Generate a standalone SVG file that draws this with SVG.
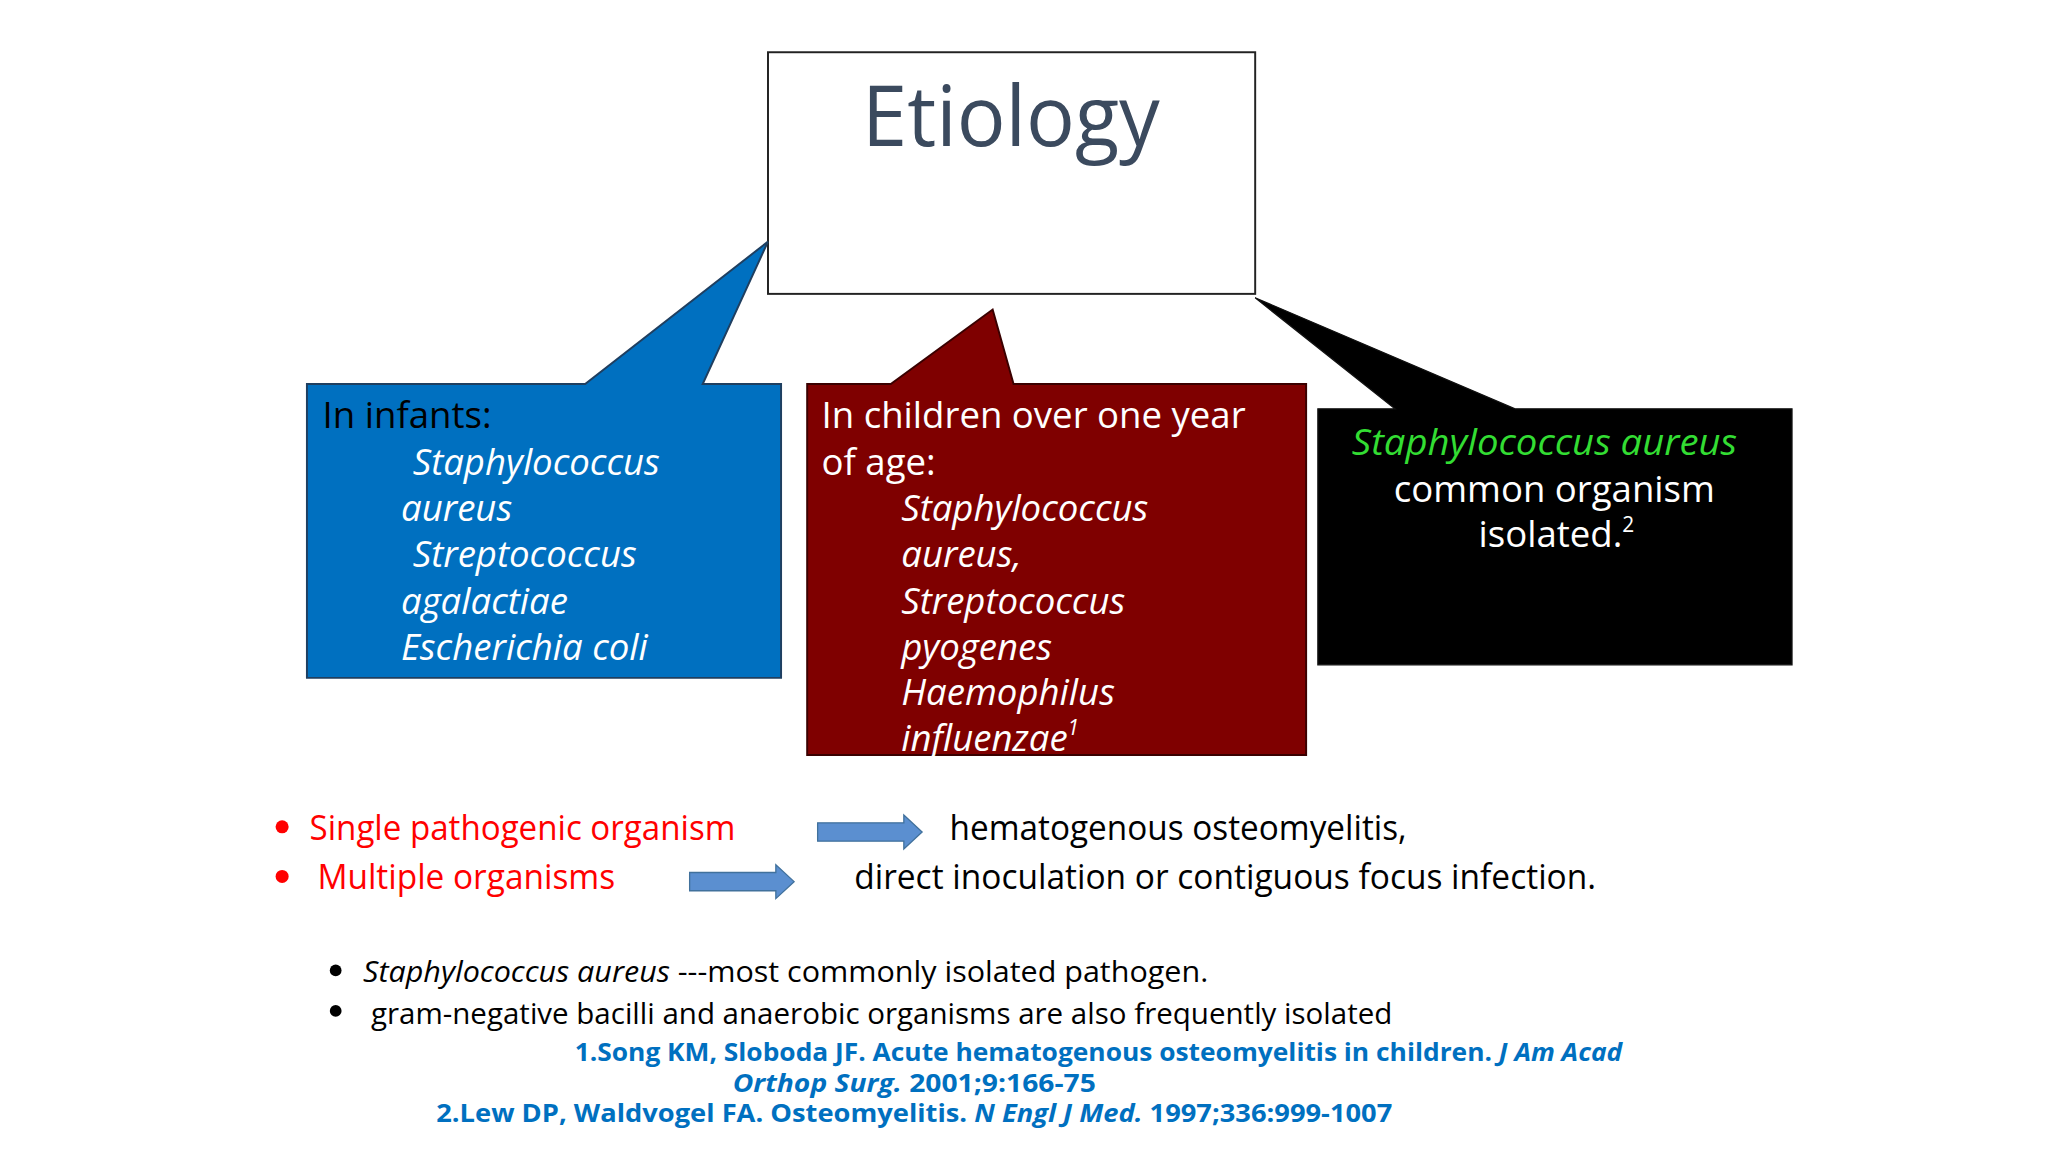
<svg xmlns="http://www.w3.org/2000/svg" width="2048" height="1152" viewBox="0 0 2048 1152">
<style>
.t{font-family:"Open Sans","DejaVu Sans",sans-serif}
.w{fill:#fff;font-size:28px}
.i{font-style:italic}
.r{fill:#ff0000;font-size:26px}
.k{fill:#000;font-size:23px}
.ref{fill:#0070c0;font-size:19px;font-weight:bold}
.arr{fill:#5b8fd0;stroke:#41719c;stroke-width:1}
</style>
<rect width="2048" height="1152" fill="#fff"/>
<g transform="scale(1.30612)">
<g id="title">
<rect x="588" y="40" width="373" height="185" fill="#fff" stroke="#222" stroke-width="1.5"/>
<text class="t" x="774" y="112" text-anchor="middle" font-size="64" fill="#3b4a5e" textLength="228" lengthAdjust="spacingAndGlyphs">Etiology</text>
</g>
<g id="infants">
<path d="M235,294 H448 L588,185 L538,294 H598 V519 H235 Z" fill="#0070c0" stroke="#1f3f60" stroke-width="1.5"/>
<text class="t" font-size="28" x="247" y="328" fill="#000">In infants:</text>
<g class="t w i">
<text x="316" y="364">Staphylococcus</text>
<text x="307" y="399">aureus</text>
<text x="316" y="434">Streptococcus</text>
<text x="307" y="470">agalactiae</text>
<text x="307" y="505">Escherichia coli</text>
</g>
</g>
<g id="children">
<path d="M618,294 H682 L760,237 L776,294 H1000 V578 H618 Z" fill="#7f0000" stroke="#3a0000" stroke-width="1.5"/>
<g class="t w">
<text x="629" y="328">In children over one year</text>
<text x="629" y="364">of age:</text>
</g>
<g class="t w i">
<text x="690" y="399">Staphylococcus</text>
<text x="690" y="434">aureus,</text>
<text x="690" y="470">Streptococcus</text>
<text x="690" y="505">pyogenes</text>
<text x="690" y="540">Haemophilus</text>
<text x="690" y="575">influenzae<tspan font-size="16" dy="-12">1</tspan></text>
</g>
</g>
<g id="common">
<path d="M1009,313 H1068 L961,228 L1160,313 H1372 V509 H1009 Z" fill="#000" stroke="#111" stroke-width="1"/>
<text class="t i" x="1035" y="348" font-size="28" fill="#33dd33" textLength="295" lengthAdjust="spacingAndGlyphs">Staphylococcus aureus</text>
<text class="t w" x="1190" y="384" text-anchor="middle">common organism</text>
<text class="t w" x="1132" y="419">isolated.<tspan font-size="16" dy="-12">2</tspan></text>
</g>
<g id="connectors">
<path class="arr" d="M626,630 H692 V624 L706,637 L692,650 V644 H626 Z"/>
<path class="arr" d="M528,668 H594 V662 L608,675 L594,688 V682 H528 Z"/>
</g>
<g id="bullets">
<circle cx="216" cy="633" r="5" fill="#ff0000"/>
<circle cx="216" cy="671" r="5" fill="#ff0000"/>
<text class="t r" x="237" y="643" textLength="326" lengthAdjust="spacingAndGlyphs">Single pathogenic organism</text>
<text class="t r" x="243" y="681" textLength="228" lengthAdjust="spacingAndGlyphs">Multiple organisms</text>
<text class="t" x="727" y="643" font-size="26" fill="#000" textLength="350" lengthAdjust="spacingAndGlyphs">hematogenous osteomyelitis,</text>
<text class="t" x="654" y="681" font-size="26" fill="#000" textLength="568" lengthAdjust="spacingAndGlyphs">direct inoculation or contiguous focus infection.</text>
<circle cx="257" cy="743" r="4.5" fill="#000"/>
<circle cx="257" cy="774" r="4.5" fill="#000"/>
<text class="t k" x="278" y="752" textLength="647" lengthAdjust="spacingAndGlyphs"><tspan font-style="italic">Staphylococcus aureus</tspan>  ---most commonly isolated pathogen.</text>
<text class="t k" x="284" y="784" textLength="782" lengthAdjust="spacingAndGlyphs">gram-negative bacilli and anaerobic organisms are also frequently isolated</text>
</g>
<g id="refs" class="t ref">
<text x="440" y="812" textLength="802" lengthAdjust="spacingAndGlyphs">1.Song KM, Sloboda JF. Acute hematogenous osteomyelitis in children. <tspan font-style="italic">J Am Acad</tspan></text>
<text x="561" y="836" textLength="278" lengthAdjust="spacingAndGlyphs"><tspan font-style="italic">Orthop Surg.</tspan> 2001;9:166-75</text>
<text x="334" y="859" textLength="732" lengthAdjust="spacingAndGlyphs">2.Lew DP, Waldvogel FA. Osteomyelitis. <tspan font-style="italic">N Engl J Med.</tspan> 1997;336:999-1007</text>
</g>
</g>
</svg>
